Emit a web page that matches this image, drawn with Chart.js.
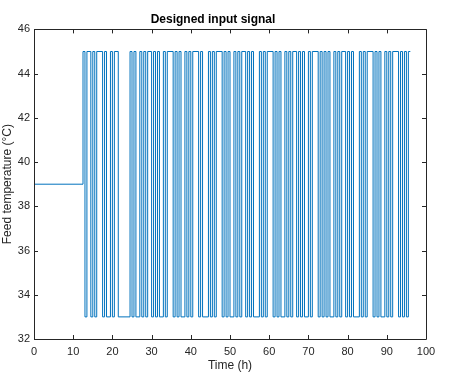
<!DOCTYPE html>
<html>
<head>
<meta charset="utf-8">
<script src="https://cdn.jsdelivr.net/npm/chart.js@4/dist/chart.umd.min.js"></script>
<style>
html, body { margin: 0; padding: 0; background: #fff; }
#wrap { width: 474px; height: 373px; }
</style>
</head>
<body>
<div id="wrap"><canvas id="chart" width="474" height="373"></canvas></div>
<script>
// switch times (h); level alternates high/low after the initial 39 °C hold
var switchTimes = [0, 12.5, 13, 13.5, 14.5, 15, 15.5, 16, 17.5, 18, 18.5, 19.5, 20, 20.5, 21.5,
    24.5, 25, 25.5, 26, 27, 27.5, 28, 28.5, 29, 30, 30.5, 31, 31.5, 32, 33, 33.5,
    34, 35.5, 36, 36.5, 37, 37.5, 38.5, 39, 39.5, 40, 40.5, 42, 42.5, 43, 44.5, 45,
    45.5, 46, 46.5, 48, 48.5, 49, 49.5, 50, 51, 51.5, 52, 52.5, 53, 54, 54.5, 55,
    55.5, 56, 57.5, 58, 58.5, 59, 59.5, 61, 61.5, 62, 62.5, 63, 64, 64.5, 65, 65.5,
    66, 67, 67.5, 68, 68.5, 69, 70, 70.5, 71, 72.5, 73, 73.5, 74, 74.5, 75, 75.5,
    76.5, 77, 77.5, 78, 78.5, 79.5, 80, 80.5, 81, 81.5, 83, 83.5, 84, 84.5, 85, 86.5,
    87, 87.5, 88, 88.5, 89.5, 90, 90.5, 91, 91.5, 93, 93.5, 94, 94.5, 95, 95.5];
var levels = [39, 45, 33, 45, 33, 45, 33, 45, 33, 45, 33, 45, 33, 45, 33,
    45, 33, 45, 33, 45, 33, 45, 33, 45, 33, 45, 33, 45, 33, 45, 33,
    45, 33, 45, 33, 45, 33, 45, 33, 45, 33, 45, 33, 45, 33, 45, 33,
    45, 33, 45, 33, 45, 33, 45, 33, 45, 33, 45, 33, 45, 33, 45, 33,
    45, 33, 45, 33, 45, 33, 45, 33, 45, 33, 45, 33, 45, 33, 45, 33,
    45, 33, 45, 33, 45, 33, 45, 33, 45, 33, 45, 33, 45, 33, 45, 33,
    45, 33, 45, 33, 45, 33, 45, 33, 45, 33, 45, 33, 45, 33, 45, 33,
    45, 33, 45, 33, 45, 33, 45, 33, 45, 33, 45, 33, 45, 33, 45];
var endTime = 96;
var xTicks = [0, 10, 20, 30, 40, 50, 60, 70, 80, 90, 100];
var yTicks = [32, 34, 36, 38, 40, 42, 44, 46];

var axisColor = "#262626";

function buildPoints() {
    var pts = [];
    for (var i = 0; i < switchTimes.length; i++) {
        pts.push({ x: switchTimes[i], y: levels[i] });
    }
    pts.push({ x: endTime, y: levels[levels.length - 1] });
    return pts;
}

// matlab style box with inward ticks
var boxPlugin = {
    id: "box",
    afterDatasetsDraw: function(chart) {
        var ctx = chart.ctx;
        var a = chart.chartArea;
        var xs = chart.scales.x;
        var ys = chart.scales.y;
        ctx.save();
        ctx.strokeStyle = axisColor;
        ctx.lineWidth = 1;
        ctx.beginPath();
        ctx.rect(Math.round(a.left) + 0.5, Math.round(a.top) + 0.5,
            Math.round(a.right - a.left), Math.round(a.bottom - a.top));
        xTicks.forEach(function(t) {
            var px = Math.round(xs.getPixelForValue(t)) + 0.5;
            ctx.moveTo(px, a.bottom);
            ctx.lineTo(px, a.bottom - 4);
            ctx.moveTo(px, a.top);
            ctx.lineTo(px, a.top + 4);
        });
        yTicks.forEach(function(t) {
            var py = Math.round(ys.getPixelForValue(t)) + 0.5;
            ctx.moveTo(a.left, py);
            ctx.lineTo(a.left + 4, py);
            ctx.moveTo(a.right, py);
            ctx.lineTo(a.right - 4, py);
        });
        ctx.stroke();
        ctx.restore();
    }
};

var ctx = document.getElementById("chart").getContext("2d");
var chart = new Chart(ctx, {
    type: "line",
    data: {
        datasets: [{
            data: buildPoints(),
            borderColor: "#0072BD",
            borderWidth: 1,
            pointRadius: 0,
            stepped: "before",
            fill: false
        }]
    },
    options: {
        responsive: false,
        animation: false,
        layout: { padding: { left: 0, right: 48, top: 0, bottom: 0 } },
        plugins: {
            legend: { display: false },
            tooltip: { enabled: false },
            title: {
                display: true,
                text: "Designed input signal",
                color: "#000",
                font: { family: "Liberation Sans", size: 12, weight: "bold" },
                padding: { top: 12, bottom: 3 }
            }
        },
        scales: {
            x: {
                type: "linear",
                min: 0,
                max: 100,
                afterBuildTicks: function(s) { s.ticks = xTicks.map(function(v) { return { value: v }; }); },
                afterFit: function(s) { s.height = 34; },
                grid: { display: false, drawTicks: false },
                border: { display: false },
                ticks: {
                    color: axisColor,
                    font: { family: "Liberation Sans", size: 11 },
                    padding: 6,
                    maxRotation: 0
                },
                title: {
                    display: true,
                    text: "Time (h)",
                    color: axisColor,
                    font: { family: "Liberation Sans", size: 12 },
                    padding: { top: 0, bottom: 0 }
                }
            },
            y: {
                min: 32,
                max: 46,
                afterBuildTicks: function(s) { s.ticks = yTicks.map(function(v) { return { value: v }; }); },
                afterFit: function(s) { s.width = 34; },
                grid: { display: false, drawTicks: false },
                border: { display: false },
                ticks: {
                    color: axisColor,
                    font: { family: "Liberation Sans", size: 11 },
                    padding: 4
                },
                title: {
                    display: true,
                    text: "Feed temperature (°C)",
                    color: axisColor,
                    font: { family: "Liberation Sans", size: 12 },
                    padding: { top: 0, bottom: 0 }
                }
            }
        }
    },
    plugins: [boxPlugin]
});
</script>
</body>
</html>
